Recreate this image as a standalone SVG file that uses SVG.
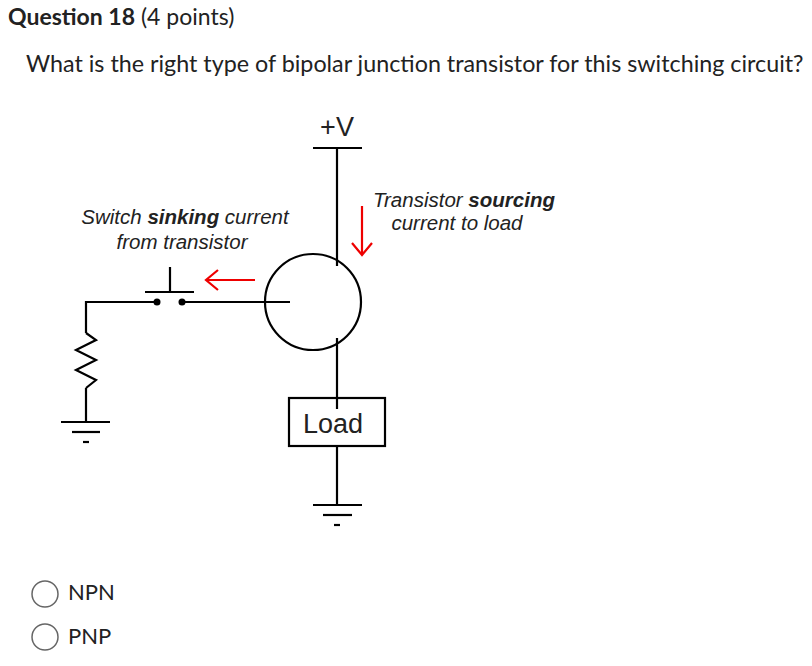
<svg xmlns="http://www.w3.org/2000/svg" width="812" height="666" viewBox="0 0 812 666">
<style>
.w{stroke:#000;stroke-width:2.2;fill:none}
.r{stroke:#e00;stroke-width:2.2;fill:none}
.t{font-family:Lato,"Liberation Sans",sans-serif;fill:#222}
.a{font-family:"Liberation Sans",Arial,sans-serif;font-style:italic;font-size:20.5px;fill:#222}
</style>
<rect width="812" height="666" fill="#fff"/>
<text class="t" x="8" y="25" font-size="23"><tspan font-weight="bold">Question 18</tspan> (4 points)</text>
<text class="t" x="26" y="72" font-size="23.3">What is the right type of bipolar junction transistor for this switching circuit?</text>
<g id="supply"><line class="w" x1="313" y1="148" x2="362" y2="148"/><text x="337" y="136" text-anchor="middle" font-family="Liberation Sans,sans-serif" font-size="27" fill="#222">+V</text></g>
<g id="transistor"><circle class="w" cx="313" cy="302" r="48" stroke-width="1.8"/></g>
<g id="switch"><line class="w" x1="145" y1="292" x2="194" y2="292"/><line class="w" x1="170" y1="267" x2="170" y2="292"/><circle cx="157" cy="302" r="3.5"/><circle cx="182" cy="302" r="3.5"/></g>
<g id="resistor"><polyline class="w" points="86,333 96,340 76,350 96,360 76,370 96,380 86,388"/></g>
<g id="load"><rect class="w" x="289" y="398" width="96" height="48"/><text x="333" y="433" text-anchor="middle" font-family="Liberation Sans,sans-serif" font-size="27" fill="#222">Load</text></g>
<g id="ground1"><line class="w" x1="61" y1="422" x2="110" y2="422"/><line class="w" x1="72" y1="432" x2="100" y2="432"/><line class="w" x1="83" y1="442" x2="89" y2="442"/></g>
<g id="ground2"><line class="w" x1="313" y1="505" x2="362" y2="505"/><line class="w" x1="323" y1="515" x2="352" y2="515"/><line class="w" x1="334" y1="525" x2="340" y2="525"/></g>
<g id="connectors">
<line class="w" x1="337" y1="148" x2="337" y2="266"/>
<polyline class="w" points="86,333 86,302 157,302"/>
<line class="w" x1="182" y1="302" x2="290" y2="302"/>
<line class="w" x1="337" y1="338" x2="337" y2="409"/>
<line class="w" x1="86" y1="388" x2="86" y2="422"/>
<line class="w" x1="337" y1="446" x2="337" y2="505"/>
<path class="r" d="M255 280H206M218 270L206 280L218 290" stroke-width="1.6"/>
<path class="r" d="M362 206V255M352 243L362 255L372 243"/>
</g>
<text class="a" x="185" y="224" text-anchor="middle">Switch <tspan font-weight="bold">sinking</tspan> current</text>
<text class="a" x="182" y="249" text-anchor="middle">from transistor</text>
<text class="a" x="464" y="207" text-anchor="middle">Transistor <tspan font-weight="bold">sourcing</tspan></text>
<text class="a" x="457" y="230" text-anchor="middle">current to load</text>
<circle cx="45" cy="594" r="13" fill="#fff" stroke="#666" stroke-width="1.5"/>
<circle cx="45" cy="637" r="13" fill="#fff" stroke="#666" stroke-width="1.5"/>
<text class="t" x="68" y="600" font-size="22">NPN</text>
<text class="t" x="68" y="644" font-size="22">PNP</text>
</svg>
